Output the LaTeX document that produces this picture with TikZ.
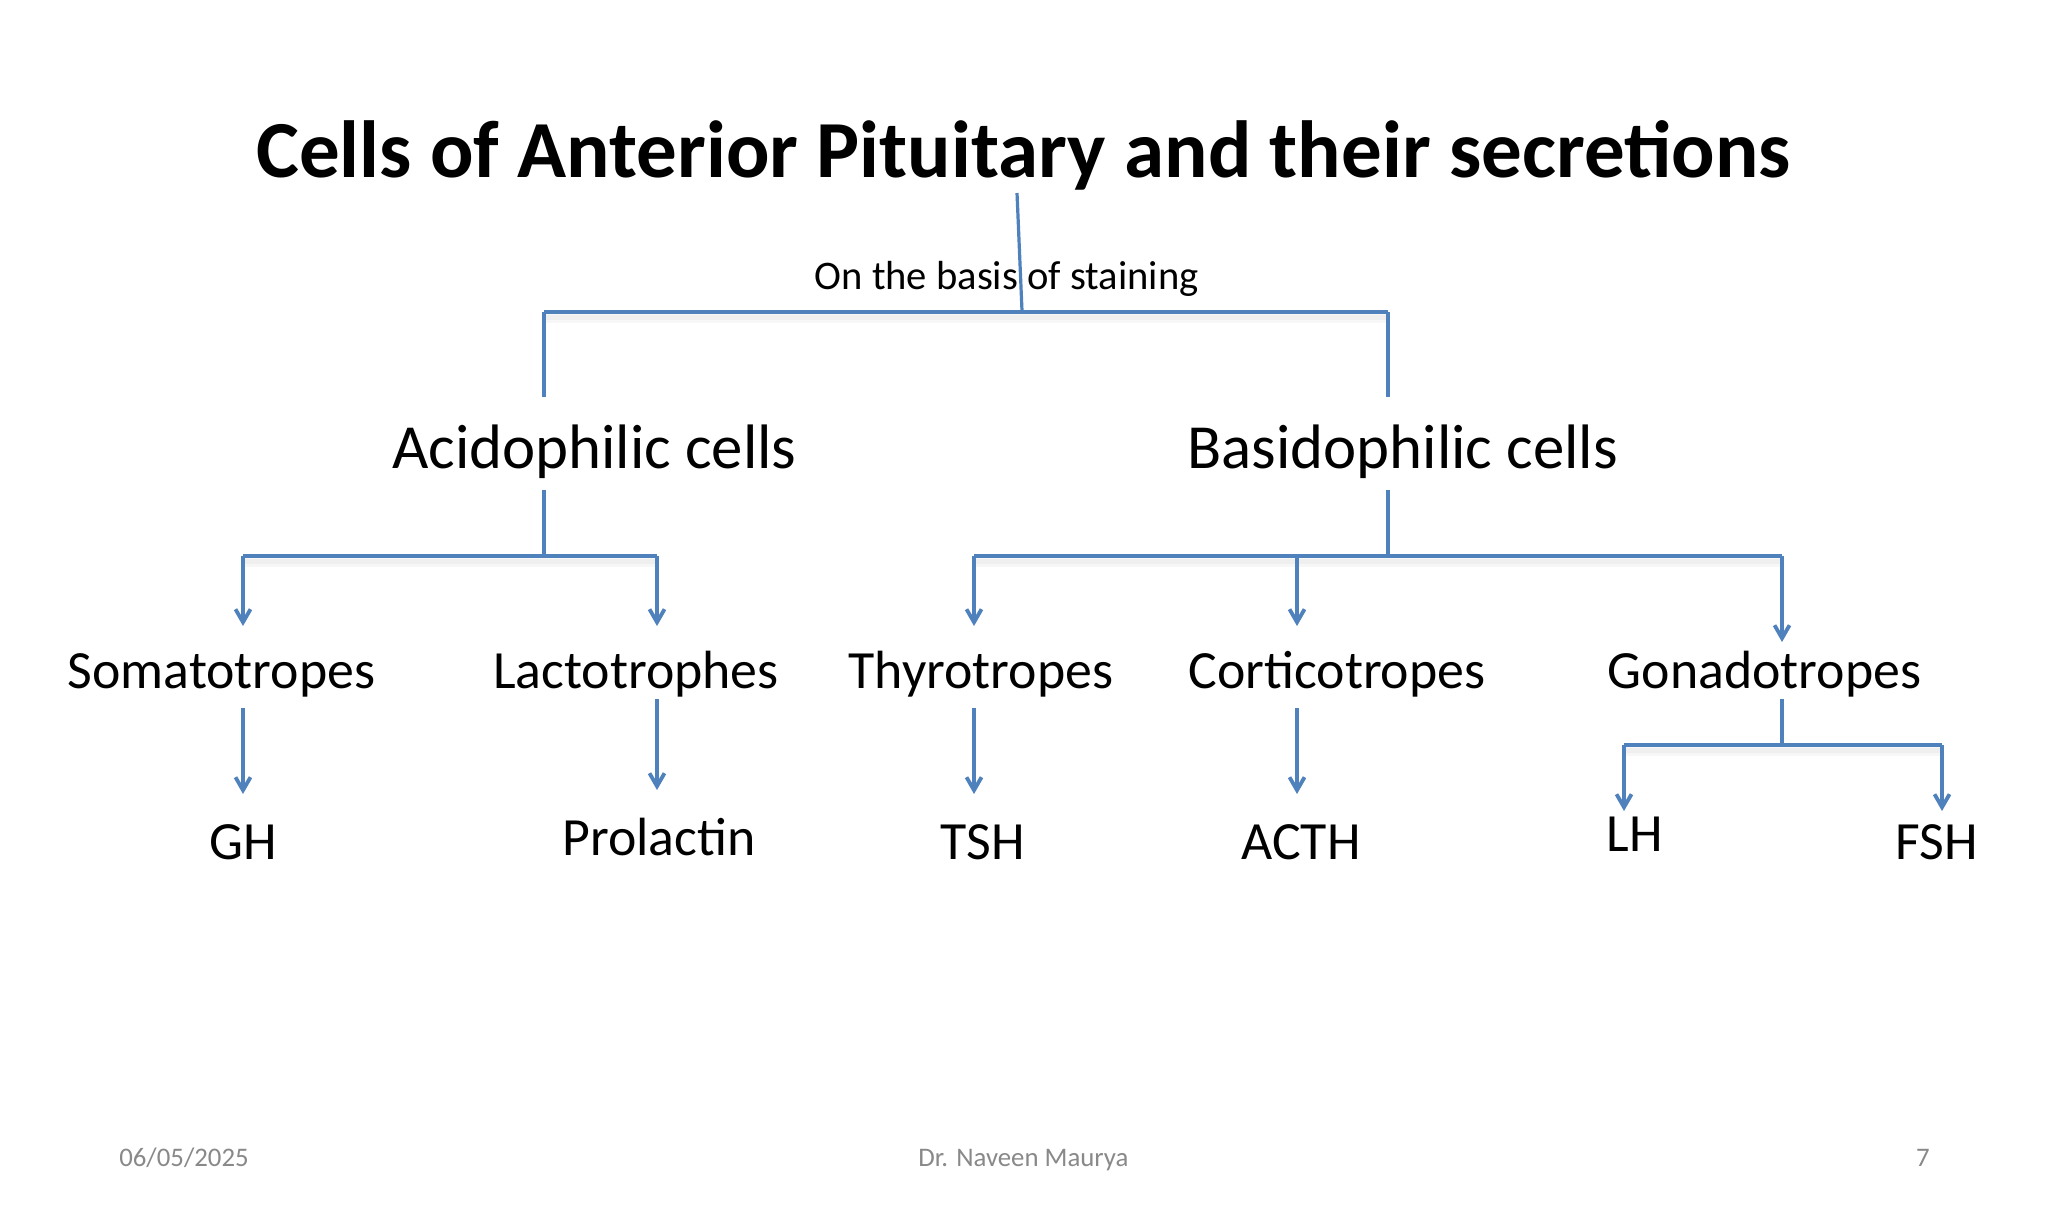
\documentclass[tikz,border=0pt]{standalone}
\usepackage{fontspec}
\setmainfont{Carlito}
\usetikzlibrary{arrows.meta}
\definecolor{conn}{HTML}{4F81BD}
\definecolor{foot}{HTML}{898989}
\tikzset{
  x=0.5pt,y=-0.5pt,
  lbl/.style={inner sep=0pt,outer sep=0pt,anchor=base,text=black},
  big/.style={lbl,font=\fontsize{31.4}{38}\selectfont},
  mid/.style={lbl,font=\fontsize{26.9}{32}\selectfont},
  foottext/.style={inner sep=0pt,outer sep=0pt,anchor=base,text=foot,font=\fontsize{13.4}{16}\selectfont},
  wire/.style={draw=conn,line width=1.6pt},
  bar/.style={draw=conn,line width=1.8pt},
  arrow/.style={draw=conn,line width=1.6pt,-{Straight Barb[length=6.5pt,width=7.5pt,line width=1.9pt]}},
  shade/.style={draw=black!40,opacity=.08,line width=4.5pt},
}
\begin{document}
\begin{tikzpicture}
\useasboundingbox (0,0) rectangle (2048,1212);
\fill[white] (0,0) rectangle (2048,1212);
% labels
\node[lbl,font=\fontsize{40.5}{48}\selectfont\bfseries] (title) at (1023.5,177.5) {Cells of Anterior Pituitary and their secretions};
\node[lbl,font=\fontsize{20.3}{24}\selectfont] (basis) at (1006.7,289) {On the basis of staining};
\node[big] (acid) at (594.4,468) {Acidophilic cells};
\node[big] (baso) at (1402.8,468) {Basidophilic cells};
\node[mid] (soma) at (221.5,688) {Somatotropes};
\node[mid] (lact) at (636,688) {Lactotrophes};
\node[mid] (thyr) at (981,688) {Thyrotropes};
\node[mid] (cort) at (1337,688) {Corticotropes};
\node[mid] (gona) at (1764.5,688) {Gonadotropes};
\node[mid] (gh) at (243,859) {GH};
\node[mid] (prol) at (659,855) {Prolactin};
\node[mid] (tsh) at (982.7,859) {TSH};
\node[mid] (acth) at (1301,859) {ACTH};
\node[mid] (lh) at (1635,851) {LH};
\node[mid] (fsh) at (1936.5,859) {FSH};
\node[foottext] (date) at (184,1166.5) {06/05/2025};
\node[foottext] (auth) at (1023.4,1166.5) {Dr. Naveen Maurya};
\node[foottext] (page) at (1923,1166.5) {7};
% junction coordinates
\coordinate (t0) at (1017,193);
\coordinate (t1) at (1022,311);
\coordinate (aL) at (544,312);
\coordinate (aR) at (1388,312);
\coordinate (aLe) at (544,397);
\coordinate (aRe) at (1388,397);
\coordinate (b0) at (544,490);
\coordinate (b1) at (544,556);
\coordinate (bL) at (243,556);
\coordinate (bR) at (657,556);
\coordinate (c0) at (1388,490);
\coordinate (c1) at (1388,556);
\coordinate (cL) at (974,556);
\coordinate (cM) at (1297,556);
\coordinate (cR) at (1782,556);
\coordinate (e1) at (243,626);
\coordinate (e2) at (657,626);
\coordinate (e3) at (974,626);
\coordinate (e4) at (1297,626);
\coordinate (e5) at (1782,642);
\coordinate (s1) at (243,708);
\coordinate (s2) at (657,699);
\coordinate (s3) at (974,708);
\coordinate (s4) at (1297,708);
\coordinate (g1) at (243,794);
\coordinate (g2) at (657,790);
\coordinate (g3) at (974,794);
\coordinate (g4) at (1297,794);
\coordinate (h0) at (1782,699);
\coordinate (h1) at (1782,745);
\coordinate (hL) at (1624,745);
\coordinate (hR) at (1942,745);
\coordinate (hLe) at (1624,811);
\coordinate (hRe) at (1942,811);
% soft shadows beneath the bars
\foreach \a/\b in {aL/aR,bL/bR,cL/cR,hL/hR}{
  \path[shade] ([yshift=-3pt]\a) -- ([yshift=-3pt]\b);
  \path[shade,line width=2.5pt] ([yshift=-2.5pt]\a) -- ([yshift=-2.5pt]\b);
}
% connectors
\draw[wire] (t0) -- (t1);
\draw[bar] (aL) -- (aR);
\draw[wire] (aLe) -- (aL);
\draw[wire] (aRe) -- (aR);
\draw[wire] (b0) -- (b1);
\draw[bar] (bL) -- (bR);
\draw[arrow] (bL) -- (e1);
\draw[arrow] (bR) -- (e2);
\draw[wire] (c0) -- (c1);
\draw[bar] (cL) -- (cR);
\draw[arrow] (cL) -- (e3);
\draw[arrow] (cM) -- (e4);
\draw[arrow] (cR) -- (e5);
\draw[arrow] (s1) -- (g1);
\draw[arrow] (s2) -- (g2);
\draw[arrow] (s3) -- (g3);
\draw[arrow] (s4) -- (g4);
\draw[wire] (h0) -- (h1);
\draw[bar] (hL) -- (hR);
\draw[arrow] (hL) -- (hLe);
\draw[arrow] (hR) -- (hRe);
\end{tikzpicture}
\end{document}
